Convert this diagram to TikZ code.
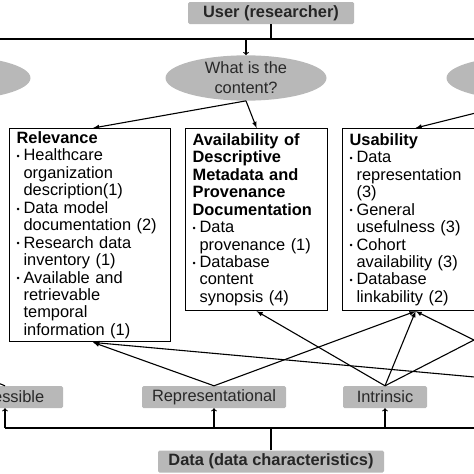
\documentclass[tikz,border=0pt]{standalone}
\usepackage{fontspec}
\setmainfont{Liberation Sans}
\usetikzlibrary{arrows,shapes.geometric}
\definecolor{boxgray}{RGB}{184,184,184}
\definecolor{txtgray}{RGB}{40,40,40}
\newcommand{\bul}{\makebox[7pt][l]{\raisebox{1.2pt}{\fontsize{9}{9}\selectfont •}}}
\newcommand{\ind}{\hspace*{7pt}}
\tikzset{
  graybox/.style={fill=boxgray, rounded corners=1.5pt, inner sep=0pt, minimum height=22pt, text=txtgray, font=\fontsize{16.4}{17.45}\selectfont},
  boldbox/.style={graybox, text=black!85, font=\bfseries\fontsize{16.4}{17.45}\selectfont},
  question/.style={ellipse, fill=boxgray, inner sep=0pt, minimum width=161pt, minimum height=44pt, align=center, text=txtgray, font=\fontsize{16.4}{20}\selectfont},
  listbox/.style={draw, line width=1.2pt, anchor=north west, align=left, inner xsep=7pt, inner ysep=3pt, font=\fontsize{16.4}{17.45}\selectfont},
  link/.style={line width=1.1pt}
}
\begin{document}
\begin{tikzpicture}[x=1pt,y=1pt,yscale=-1,xscale=1]
\useasboundingbox (0,0) rectangle (474,474);
\clip (0,0) rectangle (474,474);

%Shape: Rectangle user
\node[boldbox, minimum width=166pt] (user) at (271,13) {User (researcher)};
%Shape: Ellipses
\node[question] (ellL) at (-50,78) {};
\node[question] (ell) at (246,78) {What is the\\content?};
\node[question] (ellR) at (527,78) {};

%Shape: Boxes
\node[listbox, text width=147pt] (rel) at (9,128) {\textbf{Relevance}\\
\bul Healthcare\\
\ind organization\\
\ind description(1)\\
\bul Data model\\
\ind documentation (2)\\
\bul Research data\\
\ind inventory (1)\\
\bul Available and\\
\ind retrievable\\
\ind temporal\\
\ind information (1)};
\node[listbox, text width=128pt, minimum height=182pt] (ava) at (185,128) {\textbf{Availability of}\\
\textbf{Descriptive}\\
\textbf{Metadata and}\\
\textbf{Provenance}\\
\textbf{Documentation}\\
\bul Data\\
\ind provenance (1)\\
\bul Database\\
\ind content\\
\ind synopsis (4)};
\node[listbox, text width=132pt, minimum height=182pt] (usa) at (342,128) {\textbf{Usability}\\
\bul Data\\
\ind representation\\
\ind (3)\\
\bul General\\
\ind usefulness (3)\\
\bul Cohort\\
\ind availability (3)\\
\bul Database\\
\ind linkability (2)};

%Shape: Characteristics
\node[graybox, minimum width=116pt] (acc) at (5,397) {Accessible};
\node[graybox, minimum width=144pt] (rep) at (214,397) {Representational};
\node[graybox, minimum width=84pt] (intr) at (385,397) {Intrinsic};
\node[boldbox, minimum width=226pt] (data) at (271,461.5) {Data (data characteristics)};

\coordinate (uL) at (-60,39);
\coordinate (uR) at (540,39);
\coordinate (dR) at (540,428);
\coordinate (ctxA) at (474,340);
\coordinate (ctxB) at (500,379.3);
\coordinate (accL) at (-12,379);

%Straight Lines top
\draw[link] (uL) -- (uR);
\draw[link] (user.south) -- (user.south |- uL);
\draw[link,->] (ellL.north |- uL) -- (ellL.north);
\draw[link,->] (ell.north |- uL) -- (ell.north);
\draw[link,->] (ellR.north |- uL) -- (ellR.north);
\draw[link,-latex] (ell.south) -- ([xshift=3pt]rel.north);
\draw[link,-latex] (ell.south) -- (ava.north);
\draw[link,-latex] (ellR.south) -- (usa.north);

%Straight Lines bottom
\draw[link] (acc.south |- dR) -- (dR);
\draw[link] (data.north) -- (data.north |- dR);
\draw[link,->] (acc.south |- dR) -- (acc.south);
\draw[link,->] (rep.south |- dR) -- (rep.south);
\draw[link,->] (intr.south |- dR) -- (intr.south);

%Straight Lines crossing
\draw[link,-latex] (rep.north) -- ([xshift=3pt]rel.south);
\draw[link,-latex] (ctxB) -- ([xshift=3pt]rel.south);
\draw[link,-latex] (rep.north) -- (usa.south);
\draw[link,-latex] (intr.north) -- (usa.south);
\draw[link,-latex] (intr.north) -- (ava.south);
\draw[link,-latex] (ctxA) -- (usa.south);
\draw[link] (intr.north) -- (ctxA);
\draw[link] (acc.north) -- (accL);

\end{tikzpicture}
\end{document}
